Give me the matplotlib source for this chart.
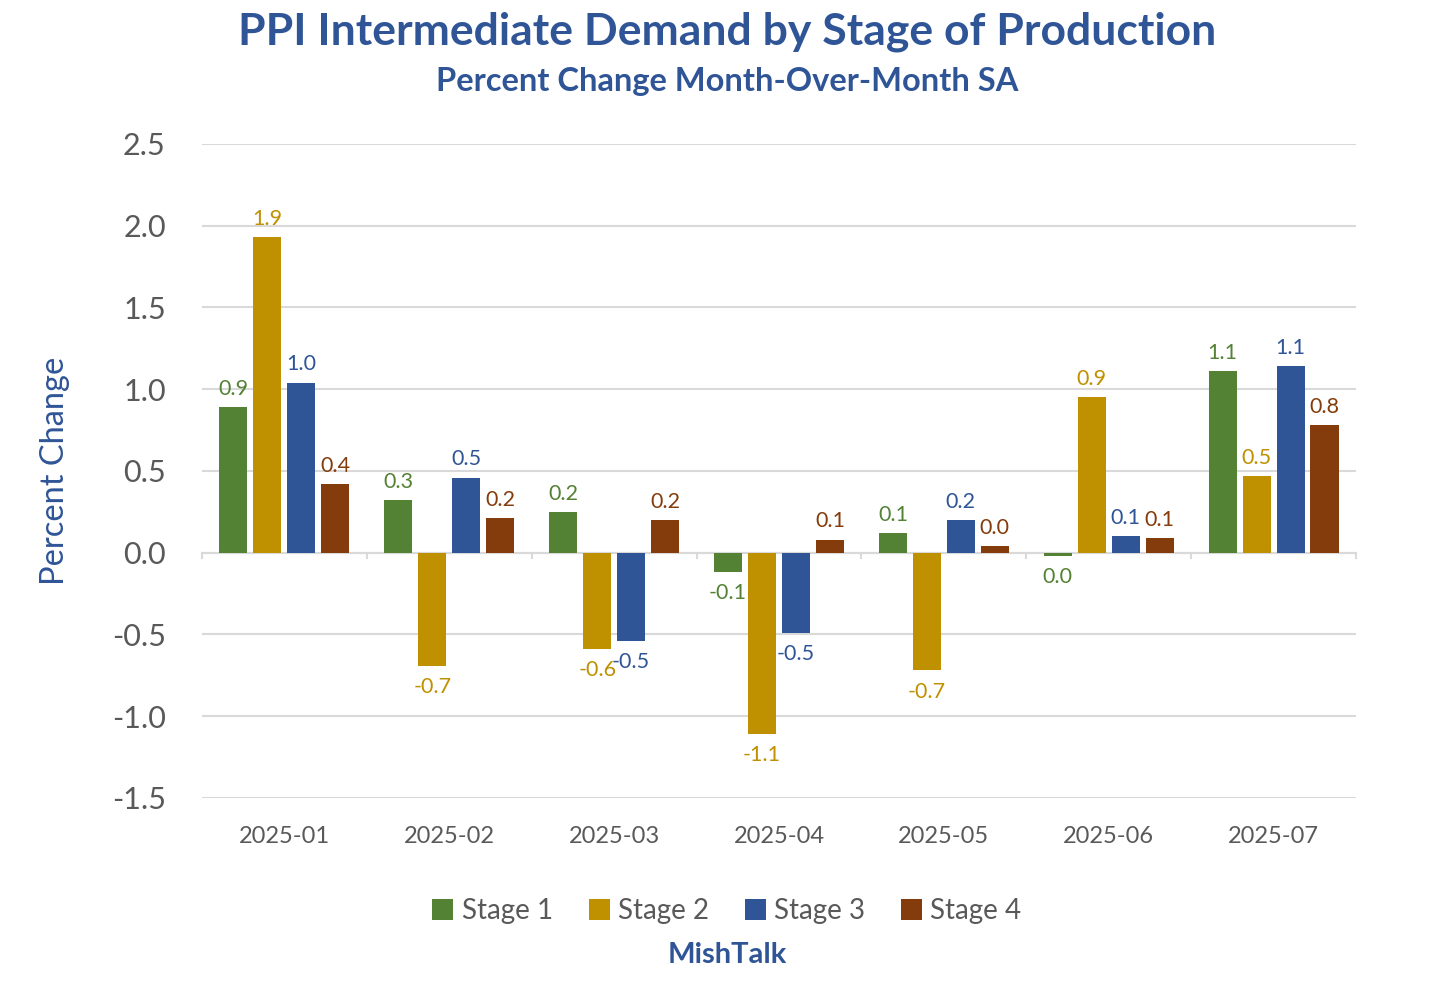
import matplotlib
matplotlib.use("Agg")
import matplotlib.pyplot as plt
import numpy as np

categories = ["2025-01", "2025-02", "2025-03", "2025-04", "2025-05", "2025-06", "2025-07"]
series_names = ["Stage 1", "Stage 2", "Stage 3", "Stage 4"]
stage1 = [0.89, 0.32, 0.25, -0.12, 0.12, -0.02, 1.11]
stage2 = [1.93, -0.69, -0.59, -1.11, -0.72, 0.95, 0.47]
stage3 = [1.04, 0.46, -0.54, -0.49, 0.20, 0.10, 1.14]
stage4 = [0.42, 0.21, 0.20, 0.08, 0.04, 0.09, 0.78]
colors = ["#548235", "#BF9000", "#2F5597", "#843C0C"]
yticks = [-1.5, -1.0, -0.5, 0.0, 0.5, 1.0, 1.5, 2.0, 2.5]

plt.rcParams['font.family'] = ['Lato', 'DejaVu Sans']
title_color = "#2F5597"
grey = "#595959"

def fmt(v):
    s = f"{v:.1f}"
    return "0.0" if s == "-0.0" else s

fig = plt.figure(figsize=(14.54, 9.97), dpi=100)
ax = fig.add_axes([0.1389, 0.1996, 0.7937, 0.656])

x = np.arange(len(categories))
spacing = 0.206
width = 0.17
all_series = [stage1, stage2, stage3, stage4]
for i, (vals, name, c) in enumerate(zip(all_series, series_names, colors)):
    xs = x + (i - 1.5) * spacing
    ax.bar(xs, vals, width=width, color=c, label=name, zorder=3)
    for xi, v in zip(xs, vals):
        if v >= 0:
            ax.annotate(fmt(v), (xi, v), xytext=(0, 6), textcoords="offset points",
                        ha="center", va="bottom", fontsize=15.5, color=c)
        else:
            ax.annotate(fmt(v), (xi, v), xytext=(0, -8), textcoords="offset points",
                        ha="center", va="top", fontsize=15.5, color=c)

ax.set_xlim(-0.5, len(categories) - 0.5)
ax.set_ylim(-1.5, 2.5)
ax.set_yticks(yticks)
ax.set_yticklabels([f"{t:.1f}" for t in yticks], fontsize=22, color=grey)
ax.yaxis.grid(True, color="#D9D9D9", linewidth=1.5, zorder=0)
ax.tick_params(axis="y", length=0, pad=26)

ax.set_xticks(x)
ax.set_xticklabels(categories, fontsize=17, color=grey)
ax.tick_params(axis="x", length=0, pad=20)
for s in ax.spines.values():
    s.set_visible(False)
ax.axhline(0, color="#D9D9D9", linewidth=1.5, zorder=2)
for b in np.arange(-0.5, len(categories), 1.0):
    ax.plot([b, b], [0, -0.035], color="#D9D9D9", linewidth=1.5, zorder=2, clip_on=False)

ax.set_ylabel("Percent Change", fontsize=23.5, color=title_color, labelpad=30)

fig.text(0.5, 0.968, "PPI Intermediate Demand by Stage of Production", ha="center", va="center",
         fontsize=32, fontweight="bold", color=title_color)
fig.text(0.5, 0.918, "Percent Change Month-Over-Month SA", ha="center", va="center",
         fontsize=23.5, fontweight="bold", color=title_color)

leg = fig.legend(loc="center", bbox_to_anchor=(0.5, 0.086), ncol=4, frameon=False,
                 fontsize=20, handlelength=0.75, handleheight=0.75, handletextpad=0.3,
                 columnspacing=1.3)
for t in leg.get_texts():
    t.set_color(grey)
fig.text(0.5, 0.042, "MishTalk", ha="center", va="center", fontsize=21,
         fontweight="bold", color=title_color)

fig.savefig("out.png", dpi=100)
